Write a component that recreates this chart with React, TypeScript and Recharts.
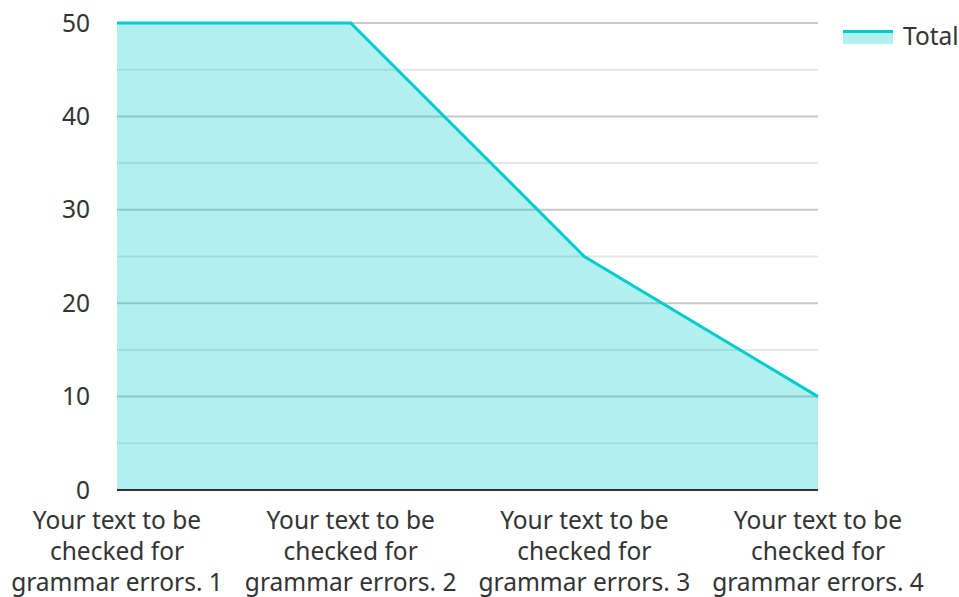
import { AreaChart, Area, XAxis, YAxis, CartesianGrid } from 'recharts';

const categories = [
  'Your text to be checked for grammar errors. 1',
  'Your text to be checked for grammar errors. 2',
  'Your text to be checked for grammar errors. 3',
  'Your text to be checked for grammar errors. 4',
];
const totals = [50, 50, 25, 10];
const yTicks = [0, 10, 20, 30, 40, 50];
const minorLines = [5, 15, 25, 35, 45];
const majorLines = [10, 20, 30, 40, 50];

const data = categories.map((name, i) => ({ name, Total: totals[i] }));

const FONT = '"Noto Sans", "Open Sans", sans-serif';
const TEAL = '#00cccc';
const FS = 24.5;

function wrap(label: string, max = 17) {
  const lines: string[] = [];
  let cur = '';
  for (const w of label.split(' ')) {
    const next = cur ? cur + ' ' + w : w;
    if (next.length > max && cur) {
      lines.push(cur);
      cur = w;
    } else {
      cur = next;
    }
  }
  if (cur) lines.push(cur);
  return lines;
}

function CategoryTick({ x, y, payload }: any) {
  const lines = wrap(String(payload.value));
  return (
    <g>
      {lines.map((line, i) => (
        <text
          key={i}
          x={x}
          y={y + 29 + i * 31}
          textAnchor="middle"
          dominantBaseline="central"
          fill="#333"
          fontSize={FS}
          fontFamily={FONT}
        >
          {line}
        </text>
      ))}
    </g>
  );
}

export default function App() {
  return (
    <div style={{ position: 'absolute', left: 0, top: 0, width: 959, height: 597, background: '#fff' }}>
      <AreaChart
        width={959}
        height={597}
        data={data}
        margin={{ top: 23, right: 141, bottom: 0, left: 0 }}
      >
        <CartesianGrid vertical={false} horizontalValues={minorLines} stroke="#e6e6e6" strokeWidth={2} />
        <CartesianGrid vertical={false} horizontalValues={majorLines} stroke="#c8c8c8" strokeWidth={2} />
        <XAxis
          dataKey="name"
          height={107}
          tickLine={false}
          tickSize={0}
          tickMargin={0}
          axisLine={{ stroke: '#333', strokeWidth: 2 }}
          tick={<CategoryTick />}
          interval={0}
        />
        <YAxis
          width={117}
          domain={[0, 50]}
          ticks={yTicks}
          axisLine={false}
          tickLine={false}
          tickSize={0}
          tickMargin={27}
          tick={{ fill: '#333', fontSize: FS, fontFamily: FONT }}
        />
        <Area
          type="linear"
          dataKey="Total"
          stroke={TEAL}
          strokeWidth={3}
          fill={TEAL}
          fillOpacity={0.3}
          isAnimationActive={false}
          dot={false}
          activeDot={false}
        />
      </AreaChart>
      <div
        style={{
          position: 'absolute',
          left: 843,
          top: 20,
          display: 'flex',
          alignItems: 'center',
          fontFamily: FONT,
          fontSize: FS,
          color: '#333',
          lineHeight: '32px',
        }}
      >
        <svg width={50} height={16} style={{ marginRight: 10, display: 'block' }}>
          <rect x={0} y={4} width={50} height={12} fill={TEAL} fillOpacity={0.3} />
          <rect x={0} y={2} width={50} height={3} fill={TEAL} />
        </svg>
        <span>Total</span>
      </div>
    </div>
  );
}
